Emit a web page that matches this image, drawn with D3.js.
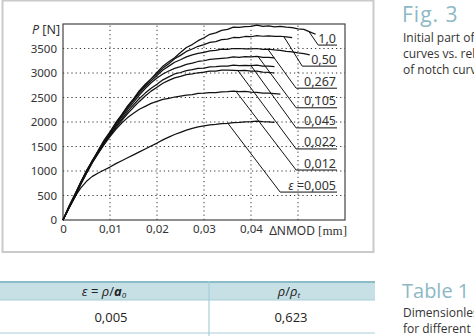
<!DOCTYPE html>
<html><head><meta charset="utf-8">
<script src="https://cdn.jsdelivr.net/npm/d3@7"></script>
<style>body{margin:0;background:#fff;overflow:hidden}svg{display:block}</style>
</head><body>
<script>
// ---- data (ΔNMOD in mm, P in N) ----
const xs = [0,.00125,.0025,.00375,.005,.00625,.0075,.00875,.01,.01125,.0125,.01375,.015,.01625,.0175,.01875,
            .02,.02125,.0225,.02375,.025,.02625,.0275,.02875,.03,.03125,.0325,.03375,.035,.03625,.0375,.03875,
            .04,.04125,.0425,.04375,.045,.04625,.0475,.04875,.05,.05125,.0525,.05375];
const c_10   = [0,280,520,760,1010,1200,1420,1630,1800,1990,2150,2330,2470,2640,2770,2880,3010,3140,3230,3310,3420,3520,
                3580,3660,3720,3790,3820,3870,3890,3935,3930,3945,3950,3975,3950,3960,3940,3950,3935,3925,3900,3890,3840,3790];
const c_050  = [0,270,510,770,1000,1220,1410,1610,1790,1970,2140,2310,2460,2620,2750,2880,2990,3100,3190,3290,3360,3440,
                3490,3545,3580,3625,3640,3680,3690,3725,3720,3745,3740,3765,3750,3760,3745,3750,3735,3720];
const c_0267 = [0,260,500,760,990,1210,1400,1600,1780,1960,2130,2300,2440,2590,2720,2840,2950,3060,3140,3220,3270,3330,
                3370,3400,3420,3450,3460,3485,3480,3500,3500,3490,3490,3500,3480,3485,3470,3460,3440,3430,3410,3395,3370];
const c_0105 = [0,250,490,750,980,1200,1390,1590,1760,1940,2100,2260,2400,2550,2680,2800,2900,2980,3040,3095,3130,3175,
                3200,3235,3250,3280,3290,3300,3310,3330,3320,3335,3330,3340,3320,3320,3310];
const c_0045 = [0,245,480,740,970,1190,1380,1570,1740,1910,2060,2210,2350,2480,2590,2690,2770,2860,2920,2980,3010,3050,
                3070,3095,3100,3125,3130,3140,3140,3160,3150,3155,3150,3160,3140,3140,3130];
const c_0022 = [0,240,470,730,960,1180,1370,1560,1720,1880,2030,2170,2300,2420,2530,2630,2710,2790,2850,2900,2930,2965,
                2980,3005,3020,3040,3040,3060,3060,3055,3050,3055,3040,3040,3020,3015,3000];
const c_0012 = [0,235,460,720,950,1170,1360,1540,1700,1850,1980,2090,2180,2260,2320,2380,2420,2460,2480,2510,2530,2550,
                2560,2585,2590,2600,2600,2615,2620,2630,2620,2625,2610,2605,2590,2590,2580,2570];
const c_0005 = [0,250,470,650,790,890,960,1020,1080,1150,1210,1270,1330,1390,1450,1510,1570,1635,1690,1745,1790,1835,
                1870,1900,1920,1940,1950,1965,1970,1985,1990,2005,2010,2020,2010,2005,1990];
const series = [c_10,c_050,c_0267,c_0105,c_0045,c_0022,c_0012,c_0005];
const labels = ["1,0","0,50","0,267","0,105","0,045","0,022","0,012","=0,005"];
const leaderX = [.0523,.047,.0436,.0415,.040,.0372,.0368,.0351];   // point on curve (mm)
const labelP  = [3570,3140,2690,2290,1880,1450,1020,570];          // underline level (N)
const labelX  = [.0543,.0509,.0496,.0496,.0496,.0496,.0496,.0462]; // underline start (mm)
const xTicks = [0,.01,.02,.03,.04];
const xTickLabels = ["0","0,01","0,02","0,03","0,04"];
const yTicks = [0,500,1000,1500,2000,2500,3000,3500];

// ---- drawing ----
const W=474,H=336;
const svg=d3.select("body").append("svg").attr("width",W).attr("height",H);
svg.append("rect").attr("x",2.5).attr("y",0.5).attr("width",371).attr("height",251.5)
  .attr("fill","none").attr("stroke","#cacaca").attr("stroke-width",2);

const x=d3.scaleLinear().domain([0,.06]).range([63,345]);
const y=d3.scaleLinear().domain([0,4000]).range([220,24]);
const F="'Noto Sans', sans-serif";
const g=svg.append("g");
g.selectAll(".gx").data([.01,.02,.03,.04,.05]).join("line")
  .attr("x1",d=>x(d)).attr("x2",d=>x(d)).attr("y1",y(0)).attr("y2",y(4000))
  .attr("stroke","#333").attr("stroke-width",1).attr("stroke-dasharray","1.2,3");
g.selectAll(".gy").data(yTicks.slice(1)).join("line")
  .attr("y1",d=>y(d)).attr("y2",d=>y(d)).attr("x1",x(0)).attr("x2",x(.06))
  .attr("stroke","#333").attr("stroke-width",1).attr("stroke-dasharray","1.2,3");
g.append("rect").attr("x",x(0)).attr("y",y(4000)).attr("width",x(.06)-x(0)).attr("height",y(0)-y(4000))
  .attr("fill","none").attr("stroke","#444").attr("stroke-width",1.2);
const ya=d3.axisLeft(y).tickValues(yTicks).tickSize(0).tickPadding(6).tickFormat(d=>d);
const yg=svg.append("g").attr("transform",`translate(${x(0)},0)`).call(ya);
const xa=d3.axisBottom(x).tickValues(xTicks).tickSize(0).tickPadding(5).tickFormat((d,i)=>xTickLabels[i]);
const xg=svg.append("g").attr("transform",`translate(0,${y(0)})`).call(xa);
[yg,xg].forEach(a=>{a.select(".domain").remove();a.selectAll("text").attr("font-family",F).attr("font-size",11.5).attr("fill","#333");});
svg.append("text").attr("x",32).attr("y",34).attr("font-family",F).attr("font-size",12.5).attr("fill","#333")
  .html('<tspan font-style="italic">P</tspan> [N]');
svg.append("text").attr("x",347).attr("y",235).attr("text-anchor","end").attr("font-family",F).attr("font-size",12).attr("fill","#333")
  .html('ΔNMOD <tspan font-family="Liberation Serif" font-size="13">[mm]</tspan>');
const line=d3.line().x((d,i)=>x(xs[i])).y(d=>y(d));
svg.selectAll(".c").data(series).join("path").attr("d",d=>line(d))
  .attr("fill","none").attr("stroke","#111").attr("stroke-width",1.25).attr("stroke-linejoin","round");
function valAt(s,xv){const n=s.length;for(let i=1;i<n;i++){if(xs[i]>=xv){const t=(xv-xs[i-1])/(xs[i]-xs[i-1]);return s[i-1]+t*(s[i]-s[i-1]);}}return s[n-1];}
series.forEach((s,i)=>{
  const p0=[x(leaderX[i]),y(valAt(s,leaderX[i]))];
  const p1=[x(labelX[i]),y(labelP[i])];
  const p2=[337,y(labelP[i])];
  svg.append("path").attr("d",d3.line()([p0,p1,p2])).attr("fill","none").attr("stroke","#111").attr("stroke-width",1);
  const t=svg.append("text").attr("x",336).attr("y",y(labelP[i])-2.5).attr("text-anchor","end")
    .attr("font-family",F).attr("font-size",12.5).attr("fill","#333");
  if(i===7) t.html('<tspan font-style="italic">ε</tspan> '+labels[i]); else t.text(labels[i]);
});
const F2="'Open Sans', sans-serif";
svg.append("text").attr("x",402).attr("y",22).attr("font-family",F2).attr("font-size",21).attr("letter-spacing",1).attr("fill","#8db8c4").text("Fig. 3");
["Initial part of","curves vs. rel","of notch curv"].forEach((t,i)=>svg.append("text").attr("x",403).attr("y",41.5+i*16)
  .attr("font-family",F2).attr("font-size",12).attr("fill","#333").text(t));
svg.append("text").attr("x",402).attr("y",298).attr("font-family",F2).attr("font-size",20).attr("fill","#8db8c4").text("Table 1");
["Dimensionles","for different r"].forEach((t,i)=>svg.append("text").attr("x",403).attr("y",317+i*16)
  .attr("font-family",F2).attr("font-size",12).attr("fill","#333").text(t));
svg.append("rect").attr("x",0).attr("y",281).attr("width",375).attr("height",19).attr("fill","#c7e0e6");
svg.append("line").attr("x1",0).attr("x2",375).attr("y1",282).attr("y2",282).attr("stroke","#8cbcc8").attr("stroke-width",2);
[300,333].forEach(v=>svg.append("line").attr("x1",0).attr("x2",375).attr("y1",v).attr("y2",v).attr("stroke","#a7ced8").attr("stroke-width",1.2));
svg.append("line").attr("x1",209).attr("x2",209).attr("y1",281).attr("y2",336).attr("stroke","#a7ced8").attr("stroke-width",1.2);
svg.append("text").attr("x",104).attr("y",295.5).attr("text-anchor","middle").attr("font-family",F2).attr("font-size",13).attr("fill","#222")
  .html('<tspan font-style="italic">ε</tspan> = <tspan font-style="italic">ρ</tspan>/<tspan font-style="italic" font-weight="bold">a</tspan><tspan font-size="8" dy="2" font-style="italic">0</tspan>');
svg.append("text").attr("x",289).attr("y",295.5).attr("text-anchor","middle").attr("font-family",F2).attr("font-size",13).attr("fill","#222")
  .html('<tspan font-style="italic">ρ</tspan>/<tspan font-style="italic">ρ</tspan><tspan font-size="8" dy="2" font-style="italic">t</tspan>');
svg.append("text").attr("x",111).attr("y",321.5).attr("text-anchor","middle").attr("font-family",F2).attr("font-size",13).attr("fill","#222").text("0,005");
svg.append("text").attr("x",291).attr("y",321.5).attr("text-anchor","middle").attr("font-family",F2).attr("font-size",13).attr("fill","#222").text("0,623");
</script>
</body></html>
